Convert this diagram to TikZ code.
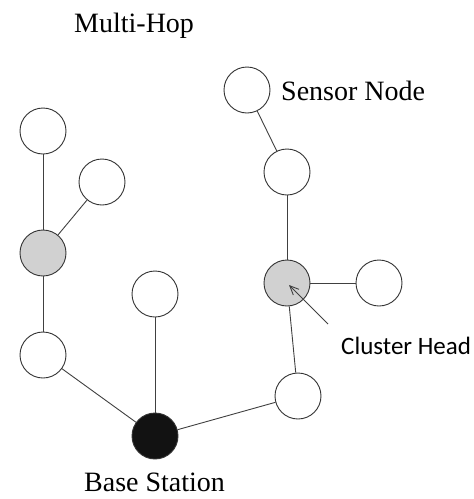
\documentclass[tikz,border=0pt]{standalone}
\usepackage{fontspec}
\newfontfamily\timesf{LiberationSerif}[Extension=.ttf,UprightFont=*-Regular]
\newfontfamily\calib{Carlito}
\usetikzlibrary{arrows.meta}
\begin{document}
\begin{tikzpicture}[x=1pt,y=-1pt,
  sn/.style={circle,draw=black!80,line width=0.9pt,minimum size=46pt,inner sep=0pt,fill=white},
  ch/.style={sn,fill=black!18},
  bs/.style={sn,fill=black!93},
  link/.style={draw=black!75,line width=0.9pt},
  lbl/.style={font=\timesf\fontsize{28}{30}\selectfont,anchor=base west,inner sep=0pt}]
\useasboundingbox (0,0) rectangle (474,499);
\node[sn] (a) at (43,131) {};
\node[sn] (b) at (102,182) {};
\node[ch] (c) at (43,253) {};
\node[sn] (d) at (43,355) {};
\node[sn] (m) at (155,294) {};
\node[bs] (base) at (155,436) {};
\node[sn] (s) at (247,90) {};
\node[sn] (t) at (287,172) {};
\node[ch] (h) at (287,283) {};
\node[sn] (r) at (379,283) {};
\node[sn] (l) at (298,396) {};
\draw[link] (a) -- (c);
\draw[link] (b) -- (c);
\draw[link] (c) -- (d);
\draw[link] (d) -- (base);
\draw[link] (m) -- (base);
\draw[link] (base) -- (l);
\draw[link] (l) -- (h);
\draw[link] (h) -- (r);
\draw[link] (h) -- (t);
\draw[link] (t) -- (s);
\coordinate (af) at (328,324);
\coordinate (at) at (289,285);
\draw[link,-{Straight Barb[length=9pt,width=8pt]}] (af) -- (at);
\node[lbl] (mh) at (74,32) {Multi-Hop};
\node[lbl] (snl) at (281,100) {Sensor Node};
\node[lbl] (bsl) at (84,491) {Base Station};
\node[lbl,font=\calib\fontsize{25}{27}\selectfont] (chl) at (341,354) {Cluster Head};
\end{tikzpicture}
\end{document}
